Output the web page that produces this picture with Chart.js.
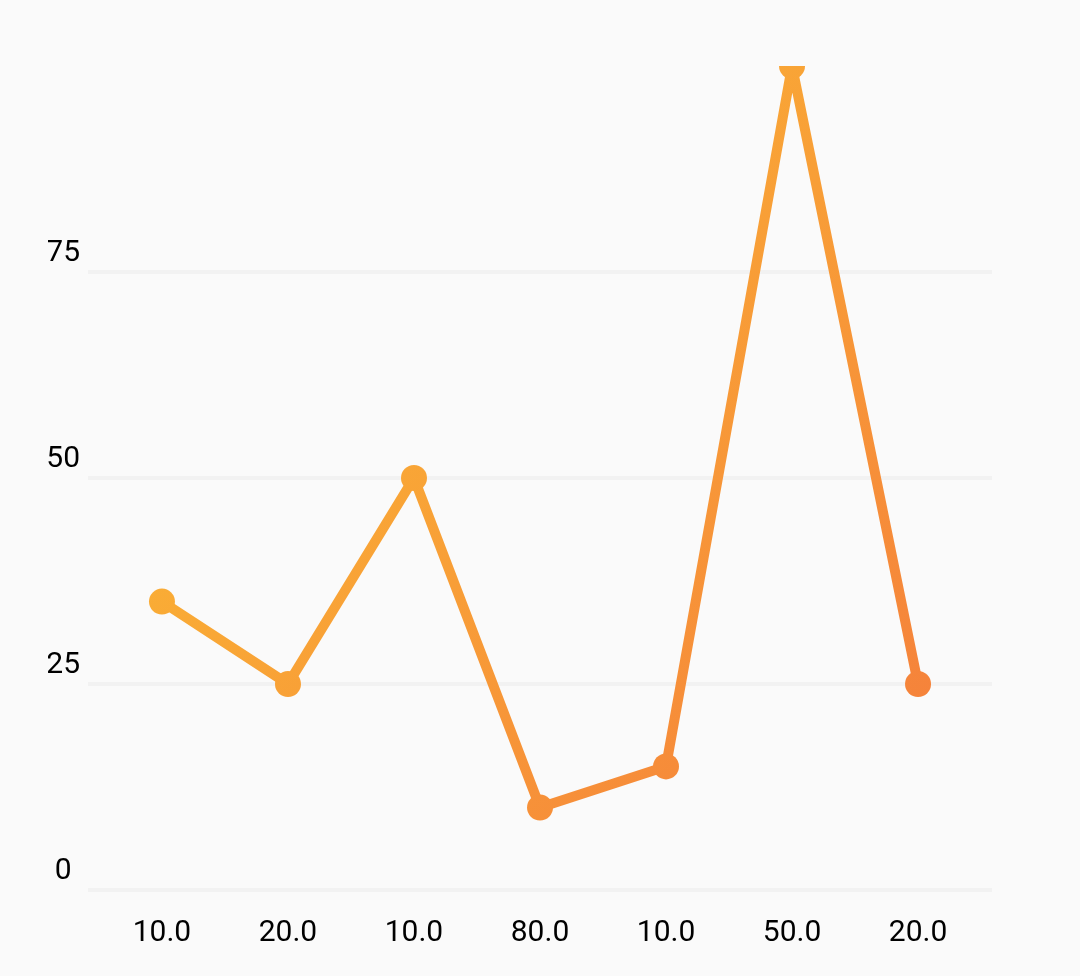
<!DOCTYPE html>
<html>
<head>
<meta charset="utf-8">
<script src="https://cdn.jsdelivr.net/npm/chart.js@4/dist/chart.umd.min.js"></script>
<style>
  html, body { margin: 0; padding: 0; background: #fafafa; }
  #wrap { width: 1080px; height: 976px; position: relative; }
</style>
</head>
<body>
<div id="wrap"><canvas id="chart"></canvas></div>
<script>
  // chart data
  const xLabels = ['10.0', '20.0', '10.0', '80.0', '10.0', '50.0', '20.0'];
  const values = [35, 25, 50, 10, 15, 100, 25];
  const yTicks = [0, 25, 50, 75];

  const points = values.map((v, i) => ({ x: i, y: v }));

  // diagonal yellow -> orange gradient, top-left to bottom-right of the plot
  function lineGradient(ctx){
    const chart = ctx.chart;
    const area = chart.chartArea;
    if(!area) return '#f9a834';
    const g = chart.ctx.createLinearGradient(area.left, area.top, area.right, area.bottom);
    g.addColorStop(0, 'rgb(252,197,50)');
    g.addColorStop(1, 'rgb(244,120,60)');
    return g;
  }

  new Chart(document.getElementById('chart'), {
    type: 'line',
    data: {
      datasets: [{
        data: points,
        borderColor: lineGradient,
        pointBackgroundColor: lineGradient,
        pointBorderWidth: 0,
        pointRadius: 13,
        borderWidth: 10,
        tension: 0,
        clip: 0
      }]
    },
    options: {
      responsive: true,
      maintainAspectRatio: false,
      animation: false,
      layout: { padding: { left: 48, right: 88, top: 66, bottom: 28 } },
      plugins: { legend: { display: false }, tooltip: { enabled: false } },
      scales: {
        x: {
          type: 'linear',
          min: -0.587,
          max: 6.587,
          afterBuildTicks: s => { s.ticks = xLabels.map((_, i) => ({ value: i })); },
          afterFit: s => { s.height = 58; },
          grid: { display: false },
          border: { display: false },
          ticks: {
            autoSkip: false, maxRotation: 0, padding: 17,
            color: '#000',
            font: { family: 'Roboto', size: 30 },
            callback: v => xLabels[v]
          }
        },
        y: {
          min: 0,
          max: 100,
          afterBuildTicks: s => { s.ticks = yTicks.map(v => ({ value: v })); },
          afterFit: s => { s.width = 40; },
          grid: { color: '#f2f2f2', lineWidth: 4, drawTicks: false },
          border: { display: false },
          ticks: {
            padding: 8,
            crossAlign: 'center',
            labelOffset: -19,
            color: '#000',
            font: { family: 'Roboto', size: 30 }
          }
        }
      }
    }
  });
</script>
</body>
</html>
